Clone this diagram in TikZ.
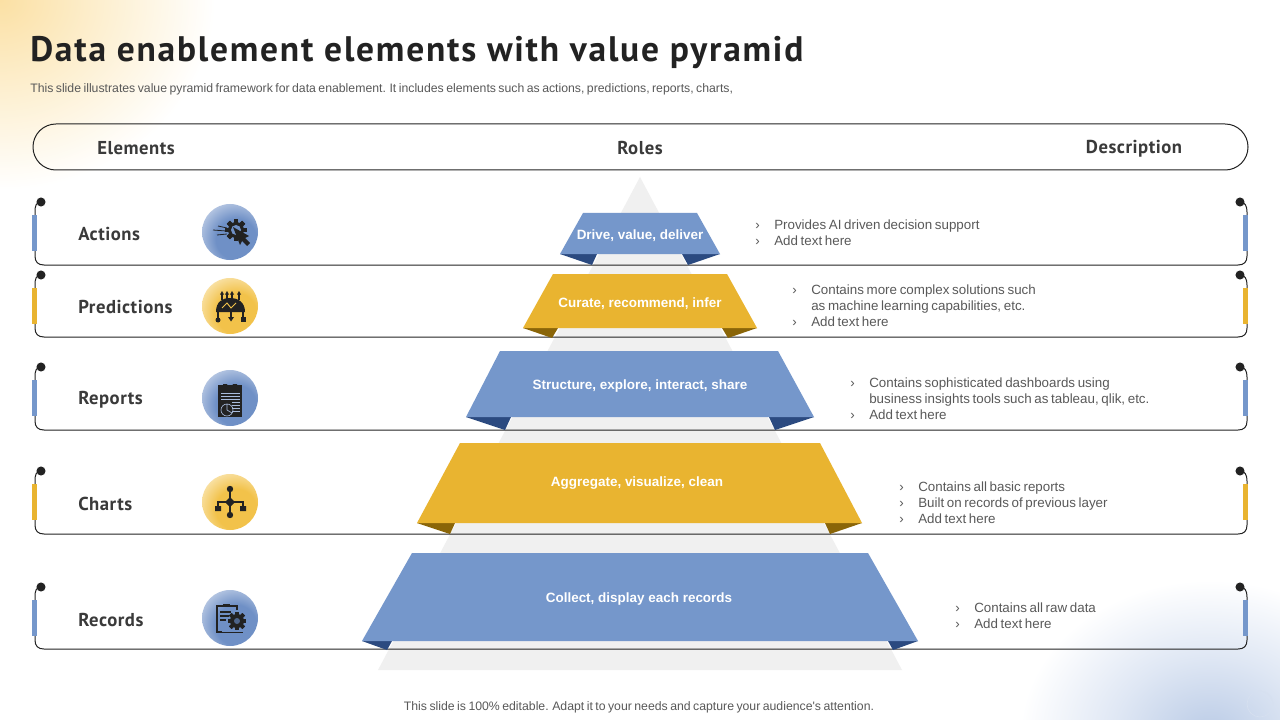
\documentclass[tikz,border=0pt]{standalone}
\usepackage{fontspec}
\setmainfont{Liberation Sans}
\newfontfamily\titlef[LetterSpace=5]{PT Sans}
\newfontfamily\labelf[LetterSpace=2.8]{PT Sans}
\newfontfamily\bodyf{Liberation Sans}
\newfontfamily\subf[WordSpace=0.72]{Liberation Sans}
\definecolor{ribblue}{HTML}{7597CB}
\definecolor{ribyel}{HTML}{E9B430}
\definecolor{foldblue}{HTML}{2B4A80}
\definecolor{foldyel}{HTML}{8A6508}
\definecolor{tri}{HTML}{F0F0F0}
\definecolor{ink}{HTML}{222222}
\definecolor{bodyc}{HTML}{595959}
\definecolor{labc}{HTML}{3A3A3A}
\definecolor{cornerY}{HTML}{FBE0A4}
\definecolor{cornerYm}{HTML}{FDF0D2}
\definecolor{cornerB}{HTML}{BACBE6}
\definecolor{cornerBm}{HTML}{DFE7F4}
\definecolor{icB}{HTML}{6F90C6}
\definecolor{icBo}{HTML}{D3DDEE}
\definecolor{icY}{HTML}{F2C24A}
\definecolor{icYo}{HTML}{FCEFCD}
\pgfdeclareradialshading{cornyel}{\pgfpoint{0bp}{0bp}}{color(0bp)=(cornerY); color(12.5bp)=(cornerYm); color(25bp)=(white); color(50bp)=(white)}
\pgfdeclareradialshading{cornblu}{\pgfpoint{0bp}{0bp}}{color(0bp)=(cornerB); color(12.5bp)=(cornerBm); color(25bp)=(white); color(50bp)=(white)}
\pgfdeclareradialshading{icoblu}{\pgfpoint{0bp}{0bp}}{color(0bp)=(icB); color(11bp)=(icB); color(25bp)=(icBo); color(50bp)=(icBo)}
\pgfdeclareradialshading{icoyel}{\pgfpoint{0bp}{0bp}}{color(0bp)=(icY); color(11bp)=(icY); color(25bp)=(icYo); color(50bp)=(icYo)}
\newcommand{\bul}{\makebox[14.25pt][l]{›}}
\newcommand{\cont}{\hspace*{14.25pt}}
\newcommand{\gearic}[4]{% x y r teeth color
  \foreach \a in {0,45,...,315}{\fill[#4,rotate around={\a:(#1,#2)}] (#1-1.6*#3/6,#2-#3*1.35) rectangle (#1+1.6*#3/6,#2+#3*1.35);}
  \fill[#4] (#1,#2) circle (#3);}
\tikzset{
  x=0.75pt,y=-0.75pt,
  rowline/.style={draw=ink,line width=0.75pt},
  dotn/.style={circle,fill=ink,inner sep=0pt,minimum size=6.8pt},
  barb/.style={fill=ribblue},
  bary/.style={fill=ribyel},
  labeln/.style={anchor=west,inner sep=0pt,text=labc,font=\labelf\bfseries\fontsize{14}{16}\selectfont},
  headn/.style={inner sep=0pt,text=labc,font=\labelf\bfseries\fontsize{14}{16}\selectfont},
  ribtext/.style={inner sep=0pt,text=white,font=\bfseries\fontsize{10.1}{12}\selectfont},
  desc/.style={anchor=west,align=left,inner sep=0pt,text=bodyc,font=\bodyf\fontsize{10.02}{12}\selectfont},
  subn/.style={inner sep=0pt,text=bodyc,font=\subf\fontsize{9.2}{11}\selectfont},
  icoB/.style={shading=icoblu},
  icoY/.style={shading=icoyel},
}
\begin{document}
\begin{tikzpicture}
\useasboundingbox (0,0) rectangle (1280,720);
\fill[white] (0,0) rectangle (1280,720);
\begin{scope}
\clip (0,0) rectangle (1280,720);
\shade[shading=cornyel] (0,0) ellipse (215 and 190);
\shade[shading=cornblu] (1210,735) ellipse (190 and 155);
\draw[cornerB!60!white,line width=0.5pt] (1260,704) circle (13);
\end{scope}
% title
\node[anchor=west,inner sep=0pt,text=ink,font=\titlef\bfseries\fontsize{26.6}{30}\selectfont] (title) at (30,53) {Data enablement elements with value pyramid};
\node[subn,anchor=west] (sub) at (30,89.5) {This slide illustrates value pyramid framework for data enablement. It includes elements such as actions, predictions, reports, charts,};
\node[subn] (foot) at (639,707) {This slide is 100\% editable. Adapt it to your needs and capture your audience's attention.};
% header
\node[draw=ink,line width=0.75pt,rounded corners=17.2pt,minimum width=911.25pt,minimum height=34.5pt,inner sep=0pt] (hdr) at (640.5,147) {};
\node[headn] (h1) at (136,148.5) {Elements};
\node[headn] (h2) at (640,148.5) {Roles};
\node[headn] (h3) at (1134,148.5) {Description};
% background triangle
\fill[tri] (640,177) -- (902,670) -- (378,670) -- cycle;
% rows
\foreach \n/\d/\b/\sty in {1/202/265/barb,2/275/337/bary,3/367/430/barb,4/471/534/bary,5/587/649/barb}{
  \node[dotn] (l\n) at (41,\d) {};
  \node[dotn] (r\n) at (1240,\d) {};
  \draw[rowline] (l\n.center) .. controls (36,\d) and (35,\d+4) .. (35,\d+10) -- (35,\b-9) .. controls (35,\b-3) and (38,\b) .. (44,\b) -- (1238,\b) .. controls (1244,\b) and (1247,\b-3) .. (1247,\b-9) -- (1247,\d+10) .. controls (1247,\d+4) and (1245,\d) .. (r\n.center);
  \fill[\sty] (32,\d+13) rectangle (37,\d+49);
  \fill[\sty] (1243,\d+13) rectangle (1248,\d+49);
}
% folds
\fill[foldblue] (560,254) -- (597,254) -- (592,265) -- cycle;
\fill[foldblue] (720,254) -- (682,254) -- (688,265) -- cycle;
\fill[foldyel] (523,328) -- (558,328) -- (552,338) -- cycle;
\fill[foldyel] (757,328) -- (722,328) -- (728,338) -- cycle;
\fill[foldblue] (466,417) -- (511,417) -- (505,430) -- cycle;
\fill[foldblue] (814,417) -- (769,417) -- (775,430) -- cycle;
\fill[foldyel] (417,523) -- (455,523) -- (450,534) -- cycle;
\fill[foldyel] (862,523) -- (825,523) -- (830,534) -- cycle;
\fill[foldblue] (362,641) -- (392,641) -- (387,650) -- cycle;
\fill[foldblue] (918,641) -- (888,641) -- (893,650) -- cycle;
% ribbons
\fill[ribblue] (583,213) -- (697,213) -- (720,254) -- (560,254) -- cycle;
\fill[ribyel] (553,274) -- (727,274) -- (757,328) -- (523,328) -- cycle;
\fill[ribblue] (500,351) -- (778,351) -- (814,417) -- (466,417) -- cycle;
\fill[ribyel] (460,443) -- (820,443) -- (862,523) -- (417,523) -- cycle;
\fill[ribblue] (412,553) -- (868,553) -- (918,641) -- (362,641) -- cycle;
\node[ribtext] (t1) at (640,235.5) {Drive, value, deliver};
\node[ribtext] (t2) at (640,303.5) {Curate, recommend, infer};
\node[ribtext] (t3) at (640,386) {Structure, explore, interact, share};
\node[ribtext] (t4) at (637,483) {Aggregate, visualize, clean};
\node[ribtext] (t5) at (639,599) {Collect, display each records};
% labels
\node[labeln] (a1) at (78,233.8) {Actions};
\node[labeln] (a2) at (78,306.8) {Predictions};
\node[labeln] (a3) at (78,399.8) {Reports};
\node[labeln] (a4) at (78,503.8) {Charts};
\node[labeln] (a5) at (78,619.8) {Records};
% descriptions
\node[desc] (d1) at (755,233) {\bul Provides AI driven decision support\\\bul Add text here};
\node[desc] (d2) at (792,306) {\bul Contains more complex solutions such\\\cont as machine learning capabilities, etc.\\\bul Add text here};
\node[desc] (d3) at (850,399) {\bul Contains sophisticated dashboards using\\\cont business insights tools such as tableau, qlik, etc.\\\bul Add text here};
\node[desc] (d4) at (899,503) {\bul Contains all basic reports\\\bul Built on records of previous layer\\\bul Add text here};
\node[desc] (d5) at (955,616) {\bul Contains all raw data\\\bul Add text here};
% icon discs
\foreach \y/\s in {232/icoB,306/icoY,398/icoB,502/icoY,618/icoB}{
  \begin{scope}
    \clip (230,\y) circle (28);
    \shade[\s] (236,\y+7) circle (46);
  \end{scope}
}
% icon 1
\gearic{236}{230}{8}{ink}
\fill[icB] (236,230) circle (5);
\fill[ink] (233,227) -- (249,236) -- (245,238) -- (250,243) -- (247,246) -- (242,241) -- (240,245) -- cycle;
\draw[ink,line width=0.6pt] (218,226) -- (227,228) (213,230) -- (226,231) (217,235) -- (227,234);
% icon 2
\fill[ink] (216,312) .. controls (216,302) and (222,298) .. (230,298) .. controls (238,298) and (245,302) .. (245,312) -- cycle;
\draw[icY,line width=0.7pt] (222,308) -- (227,303) -- (231,308) -- (236,303);
\foreach \x in {222,227,232,239}{
  \draw[ink,line width=0.8pt] (\x,300) -- (\x,294);
  \fill[ink] (\x-2,294.5) -- (\x,291) -- (\x+2,294.5) -- cycle;
}
\draw[ink,line width=0.8pt] (218,312) -- (218,318) (231,312) -- (231,318) (243,312) -- (243,317);
\fill[ink] (218,320) circle (2.5);
\fill[ink] (228,317) -- (234,317) -- (231,321.5) -- cycle;
\fill[ink] (240.5,317) rectangle (245.5,322);
% icon 3
\fill[ink] (218,385) rectangle (242,417);
\fill[ink] (223,384) -- (227,384) arc[start angle=180,end angle=0,radius=3] -- (237,384) -- (237,390) -- (223,390) -- cycle;
\foreach \yy in {393,396,399,402,405,408,411}{\draw[icB!60!white,line width=0.5pt] (232,\yy) -- (240,\yy);}
\foreach \yy in {393,396,399}{\draw[icB!60!white,line width=0.5pt] (221,\yy) -- (232,\yy);}
\draw[icB!60!white,line width=0.5pt] (227,410) circle (6) (227,410) -- (227,404) (227,410) -- (232,413);
% icon 4
\draw[ink,line width=1pt] (230,489) -- (230,515) (218,508) -- (218,502) -- (243,502) -- (243,508);
\fill[ink] (230,489) circle (3.2) (230,515) circle (3.2);
\fill[ink] (230,497) -- (235,502) -- (230,507) -- (225,502) -- cycle;
\fill[ink] (215,506) rectangle (221,511) (240,506) rectangle (246,511);
% icon 5
\draw[ink,line width=1pt] (237,610) -- (237,606) -- (217,606) -- (217,632) -- (222,632);
\fill[ink] (223,604) rectangle (230,607);
\draw[ink,line width=0.8pt] (220,612) -- (231,612) (220,616) -- (229,616) (220,620) -- (226,620);
\draw[ink,line width=1.1pt] (217,632.5) -- (243,632.5);
\gearic{237}{621}{7}{ink}
\fill[icB!70!black] (237,621) circle (3);
\end{tikzpicture}
\end{document}
